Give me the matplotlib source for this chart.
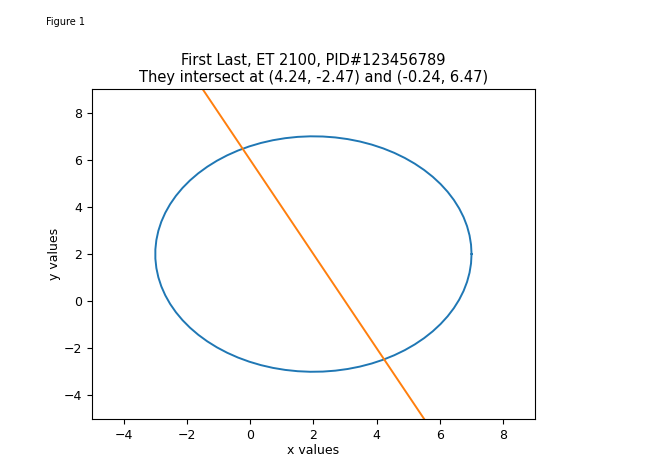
import numpy as np
from matplotlib import pyplot as plt

# circle (x-2)^2 + (y-2)^2 = 25 and line y = -2x + 6
center = [2, 2]
radius = 5
slope = -2
intercept = 6
line_x = [-5, 9]
intersections = [(4.24, -2.47), (-0.24, 6.47)]

plt.rcParams['font.size'] = 9
plt.rcParams['lines.linewidth'] = 1.4

fig = plt.figure(figsize=(6.57, 4.67), dpi=100)
ax = fig.add_axes([0.140, 0.103, 0.674, 0.706])

t = np.linspace(0, 2 * np.pi, 80)
ax.plot(center[0] + radius * np.cos(t), center[1] + radius * np.sin(t))
lx = np.array(line_x)
ax.plot(lx, slope * lx + intercept)

ax.set_xlim(-5, 9)
ax.set_ylim(-5, 9)
ax.set_xlabel('x values', labelpad=2)
ax.set_ylabel('y values', labelpad=2)
(x1, y1), (x2, y2) = intersections
ax.set_title(f'First Last, ET 2100, PID#123456789\n'
             f'They intersect at ({x1}, {y1}) and ({x2}, {y2})', fontsize=10.5, pad=5)

fig.text(0.07, 0.952, 'Figure 1', fontsize=7, va='center')
fig.savefig('out.png', dpi=100)
